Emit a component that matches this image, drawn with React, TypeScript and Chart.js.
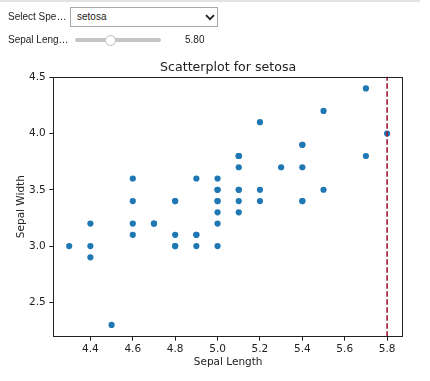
import React, { useEffect, useRef } from "react";
import { Chart, registerables } from "chart.js";

Chart.register(...registerables);

const speciesName = "setosa";
const sliderValue = 5.8;

const sepalLength = [
  5.1, 4.9, 4.7, 4.6, 5.0, 5.4, 4.6, 5.0, 4.4, 4.9,
  5.4, 4.8, 4.8, 4.3, 5.8, 5.7, 5.4, 5.1, 5.7, 5.1,
  5.4, 5.1, 4.6, 5.1, 4.8, 5.0, 5.0, 5.2, 5.2, 4.7,
  4.8, 5.4, 5.2, 5.5, 4.9, 5.0, 5.5, 4.9, 4.4, 5.1,
  5.0, 4.5, 4.4, 5.0, 5.1, 4.8, 5.1, 4.6, 5.3, 5.0,
];
const sepalWidth = [
  3.5, 3.0, 3.2, 3.1, 3.6, 3.9, 3.4, 3.4, 2.9, 3.1,
  3.7, 3.4, 3.0, 3.0, 4.0, 4.4, 3.9, 3.5, 3.8, 3.8,
  3.4, 3.7, 3.6, 3.3, 3.4, 3.0, 3.4, 3.5, 3.4, 3.2,
  3.1, 3.4, 4.1, 4.2, 3.1, 3.2, 3.5, 3.6, 3.0, 3.4,
  3.5, 2.3, 3.2, 3.5, 3.8, 3.0, 3.8, 3.2, 3.7, 3.3,
];

const xTicks = [4.4, 4.6, 4.8, 5.0, 5.2, 5.4, 5.6, 5.8];
const yTicks = [2.5, 3.0, 3.5, 4.0, 4.5];
const xLimits = [4.225, 5.875];
const yLimits = [2.195, 4.505];

const INK = "#222222";
const FONT = "'DejaVu Sans', sans-serif";

const framePlugin = {
  id: "frame",
  afterDatasetsDraw(chart: any) {
    const { ctx, chartArea: a } = chart;
    ctx.save();
    ctx.strokeStyle = INK;
    ctx.lineWidth = 1;
    const l = Math.round(a.left) + 0.5;
    const t = Math.round(a.top) + 0.5;
    const r = Math.round(a.right) - 0.5;
    const b = Math.round(a.bottom) - 0.5;
    ctx.strokeRect(l, t, r - l, b - t);
    ctx.restore();
  },
};

export default function App() {
  const canvasRef = useRef<HTMLCanvasElement | null>(null);

  useEffect(() => {
    if (!canvasRef.current) return;
    const points = sepalLength.map((x, i) => ({ x, y: sepalWidth[i] }));
    const chart = new Chart(canvasRef.current, {
      type: "scatter",
      data: {
        datasets: [
          {
            type: "line",
            data: [
              { x: sliderValue, y: yLimits[0] },
              { x: sliderValue, y: yLimits[1] },
            ],
            borderColor: "#a01632",
            borderWidth: 1.6,
            borderDash: [5.5, 2.5],
            pointRadius: 0,
            showLine: true,
            fill: false,
          } as any,
          {
            data: points,
            backgroundColor: "#1f77b4",
            borderWidth: 0,
            pointRadius: 3.1,
          },
        ],
      },
      options: {
        responsive: false,
        animation: false,
        devicePixelRatio: 1,
        layout: { padding: { left: 0, right: 27, top: 60, bottom: 0 } },
        plugins: {
          legend: { display: false },
          tooltip: { enabled: false },
          title: {
            display: true,
            text: "Scatterplot for " + speciesName,
            fullSize: false,
            color: INK,
            font: { family: FONT, size: 12.6, weight: "normal" },
            padding: { top: 0, bottom: 1.5 },
          },
        },
        scales: {
          x: {
            type: "linear",
            min: xLimits[0],
            max: xLimits[1],
            afterBuildTicks: (s: any) => {
              s.ticks = xTicks.map((v) => ({ value: v }));
            },
            afterFit: (s: any) => {
              s.height = 44.3;
            },
            ticks: {
              color: INK,
              font: { family: FONT, size: 10.5 },
              padding: 2,
              maxRotation: 0,
              autoSkip: false,
              callback: (v: any) => Number(v).toFixed(1),
            },
            grid: {
              drawOnChartArea: false,
              drawTicks: true,
              tickLength: 4,
              tickColor: INK,
            },
            border: { display: false },
            title: {
              display: true,
              text: "Sepal Length",
              color: INK,
              font: { family: FONT, size: 10.5 },
              padding: { top: 0, bottom: 12 },
            },
          },
          y: {
            type: "linear",
            min: yLimits[0],
            max: yLimits[1],
            afterBuildTicks: (s: any) => {
              s.ticks = yTicks.map((v) => ({ value: v }));
            },
            afterFit: (s: any) => {
              s.width = 53.3;
            },
            ticks: {
              color: INK,
              font: { family: FONT, size: 10.5 },
              padding: 3.5,
              autoSkip: false,
              callback: (v: any) => Number(v).toFixed(1),
            },
            grid: {
              drawOnChartArea: false,
              drawTicks: true,
              tickLength: 4,
              tickColor: INK,
            },
            border: { display: false },
            title: {
              display: true,
              text: "Sepal Width",
              color: INK,
              font: { family: FONT, size: 10.5 },
              padding: { top: 15.2, bottom: 0 },
            },
          },
        },
      },
      plugins: [framePlugin],
    });
    return () => chart.destroy();
  }, []);

  const uiFont = "'Liberation Sans', Arial, sans-serif";
  const labelStyle: React.CSSProperties = {
    position: "absolute",
    left: 8,
    width: 61,
    fontSize: 10,
    lineHeight: "14px",
    whiteSpace: "nowrap",
    overflow: "hidden",
    textOverflow: "ellipsis",
    color: "#222",
    zIndex: 2,
  };

  return (
    <div
      style={{
        position: "fixed",
        left: 0,
        top: 0,
        width: 430,
        height: 381,
        background: "#fff",
        overflow: "hidden",
        fontFamily: uiFont,
      }}
    >
      <div style={{ position: "absolute", left: 0, top: 0, width: 420, height: 2, background: "#e2e2e2" }} />
      <canvas
        ref={canvasRef}
        width={430}
        height={381}
        style={{ position: "absolute", left: 0, top: 0, zIndex: 1 }}
      />
      <div style={{ ...labelStyle, top: 10 }}>Select Species:</div>
      <div
        style={{
          position: "absolute",
          left: 70,
          top: 7,
          width: 148,
          height: 20,
          border: "1px solid #a9a9a9",
          boxSizing: "border-box",
          background: "#fff",
          zIndex: 2,
        }}
      >
        <span style={{ position: "absolute", left: 6, top: 2, fontSize: 10, lineHeight: "14px", color: "#222" }}>
          {speciesName}
        </span>
        <svg
          width={10}
          height={7}
          style={{ position: "absolute", left: 134, top: 6 }}
          viewBox="0 0 10 7"
        >
          <polyline points="1,1.2 5,5.2 9,1.2" fill="none" stroke="#222" strokeWidth={1.8} />
        </svg>
      </div>
      <div style={{ ...labelStyle, top: 33 }}>Sepal Length:</div>
      <div
        style={{
          position: "absolute",
          left: 75,
          top: 38,
          width: 86,
          height: 4,
          borderRadius: 2,
          background: "#c6c6c6",
          zIndex: 2,
        }}
      />
      <div
        style={{
          position: "absolute",
          left: 104.5,
          top: 34.5,
          width: 11,
          height: 11,
          boxSizing: "border-box",
          borderRadius: "50%",
          border: "1px solid #bdbdbd",
          background: "#fff",
          zIndex: 3,
        }}
      />
      <div
        style={{
          position: "absolute",
          left: 185,
          top: 33,
          fontSize: 10,
          lineHeight: "14px",
          color: "#222",
          zIndex: 2,
        }}
      >
        {sliderValue.toFixed(2)}
      </div>
    </div>
  );
}
